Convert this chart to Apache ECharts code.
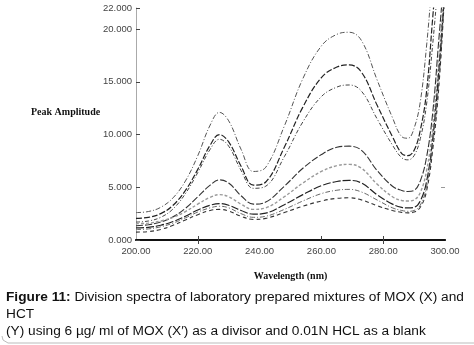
<!DOCTYPE html>
<html>
<head>
<meta charset="utf-8">
<script src="https://cdn.jsdelivr.net/npm/echarts@6/dist/echarts.min.js"></script>
<style>
  html, body { margin: 0; padding: 0; background: #ffffff; }
  #chart { width: 474px; height: 345px; }
</style>
</head>
<body>
<div id="chart"></div>
<script>
// 波长 (nm)
const wavelengths = [200, 204, 208, 212, 216, 220, 224, 227, 230, 234, 238, 242, 248, 254, 260, 265, 269, 273, 278, 283, 286, 288, 290, 292, 294, 296, 298, 300];

// 8 条比值光谱，从上到下
const curve1 = [2.6, 2.7, 3.1, 4.0, 5.6, 8.0, 10.9, 12.1, 11.3, 8.6, 6.5, 6.9, 10.8, 15.3, 18.4, 19.5, 19.7, 18.9, 15.2, 11.6, 9.8, 9.65, 10.6, 13.1, 18.3, 25, 31, 36];
const curve2 = [2.05, 2.15, 2.5, 3.3, 4.7, 6.7, 9.0, 10.0, 9.3, 7.0, 5.2, 5.5, 8.8, 12.6, 15.4, 16.4, 16.6, 15.9, 12.8, 9.8, 8.2, 8.0, 8.5, 10.4, 14.0, 21, 28, 34];
const curve3 = [1.7, 1.8, 2.15, 2.95, 4.4, 6.4, 8.6, 9.55, 8.9, 6.6, 4.9, 5.1, 7.9, 11.2, 13.6, 14.5, 14.7, 14.1, 11.5, 9.0, 7.8, 7.6, 8.0, 9.6, 12.8, 18.5, 25, 31];
const curve4 = [1.35, 1.45, 1.7, 2.2, 3.0, 4.1, 5.2, 5.7, 5.4, 4.2, 3.4, 3.6, 5.1, 6.8, 8.1, 8.8, 8.9, 8.5, 6.6, 5.1, 4.7, 4.6, 4.7, 5.6, 7.8, 12, 19, 26];
const curve5 = [1.55, 1.6, 1.8, 2.15, 2.7, 3.4, 4.05, 4.3, 4.1, 3.4, 2.9, 3.05, 4.1, 5.4, 6.5, 7.05, 7.17, 6.8, 5.3, 4.1, 3.75, 3.7, 3.8, 4.5, 6.5, 10.5, 17, 25];
const curve6 = [1.15, 1.2, 1.4, 1.75, 2.25, 2.85, 3.3, 3.45, 3.3, 2.8, 2.45, 2.55, 3.35, 4.3, 5.15, 5.55, 5.65, 5.4, 4.3, 3.4, 3.1, 3.05, 3.1, 3.7, 5.5, 9.5, 16, 24];
const curve7 = [1.0, 1.05, 1.25, 1.6, 2.1, 2.65, 3.05, 3.2, 3.05, 2.5, 2.15, 2.25, 2.9, 3.7, 4.4, 4.72, 4.8, 4.55, 3.8, 3.05, 2.8, 2.72, 2.8, 3.3, 5.0, 9, 15, 24];
const curve8 = [0.75, 0.8, 1.0, 1.4, 1.9, 2.4, 2.8, 2.9, 2.75, 2.25, 1.95, 2.05, 2.6, 3.2, 3.7, 3.95, 4.0, 3.8, 3.25, 2.8, 2.62, 2.57, 2.65, 3.1, 4.6, 8.5, 14.5, 24];

const curves = [curve1, curve2, curve3, curve4, curve5, curve6, curve7, curve8];

// 线型（灰黑虚线）
const lineStyles = [
  {color: '#555', width: 1, type: [5, 2, 1, 2]},
  {color: '#222', width: 1.2, type: [6, 2]},
  {color: '#444', width: 1, type: [4, 2, 1, 2]},
  {color: '#333', width: 1.1, type: [7, 2]},
  {color: '#999', width: 1.4, type: [3, 2]},
  {color: '#222', width: 1.2, type: [8, 2]},
  {color: '#666', width: 1, type: [5, 2, 1, 2]},
  {color: '#333', width: 1.1, type: [4, 3]}
];

const myChart = echarts.init(document.getElementById('chart'), null, {renderer: 'canvas'});

const option = {
  animation: false,
  backgroundColor: '#ffffff',
  grid: {
    left: 136,
    right: 29,
    top: 8,
    bottom: 105
  },
  xAxis: [
    {
      type: 'value',
      min: 200,
      max: 300,
      interval: 20,
      name: 'Wavelength (nm)',
      nameLocation: 'middle',
      nameGap: 31,
      nameTextStyle: {
        fontFamily: 'Liberation Serif',
        fontWeight: 'bold',
        fontSize: 10,
        color: '#111'
      },
      axisLine: {lineStyle: {color: '#666', width: 2}},
      axisTick: {inside: true, length: 4, customValues: [220, 260, 280], lineStyle: {color: '#444'}},
      axisLabel: {
        margin: 6,
        fontFamily: 'Liberation Sans',
        fontSize: 9.5,
        color: '#444',
        formatter: v => v.toFixed(2)
      },
      splitLine: {show: false}
    },
    {
      type: 'value',
      position: 'top',
      min: 200,
      max: 300,
      axisLine: {lineStyle: {color: '#111', width: 2}},
      axisTick: {inside: true, length: 4, customValues: [220, 280], lineStyle: {color: '#444'}},
      axisLabel: {show: false},
      splitLine: {show: false}
    }
  ],
  yAxis: [
    {
      type: 'value',
      min: 0,
      max: 22,
      interval: 5,
      axisLine: {show: true, lineStyle: {color: '#aaa', width: 1}},
      axisTick: {show: true, inside: true, length: 4, lineStyle: {color: '#444'}},
      axisLabel: {
        margin: 4,
        fontFamily: 'Liberation Sans',
        fontSize: 9.5,
        color: '#444',
        formatter: v => v.toFixed(3)
      },
      splitLine: {show: false}
    },
    {
      type: 'value',
      position: 'right',
      min: 0,
      max: 22,
      axisLine: {show: false},
      axisTick: {show: true, inside: true, length: 4, customValues: [5], lineStyle: {color: '#999'}},
      axisLabel: {show: false},
      splitLine: {show: false}
    }
  ],
  graphic: [
    {
      type: 'text',
      left: 31,
      top: 107,
      style: {
        text: 'Peak Amplitude',
        fontFamily: 'Liberation Serif',
        fontWeight: 'bold',
        fontSize: 10,
        fill: '#111'
      }
    },
    {
      type: 'text',
      left: 6,
      top: 289,
      style: {
        text: '{b|Figure 11:} Division spectra of laboratory prepared mixtures of MOX (X) and\nHCT\n(Y) using 6 µg/ ml of MOX (X′) as a divisor and 0.01N HCL as a blank',
        fontFamily: 'Liberation Sans',
        fontSize: 13.7,
        lineHeight: 17,
        fill: '#111',
        rich: {
          b: {fontFamily: 'Liberation Sans', fontSize: 13.7, fontWeight: 'bold', fill: '#111', lineHeight: 17}
        }
      }
    },
    {
      type: 'polyline',
      shape: {points: [[2, 336], [3, 340], [8, 343], [474, 343]]},
      style: {stroke: '#bbb', lineWidth: 1, fill: null}
    }
  ],
  series: curves.map((vals, i) => ({
    type: 'line',
    smooth: 0.4,
    symbol: 'none',
    clip: true,
    lineStyle: lineStyles[i],
    data: wavelengths.map((w, j) => [w, vals[j]])
  }))
};

myChart.setOption(option);
</script>
</body>
</html>
